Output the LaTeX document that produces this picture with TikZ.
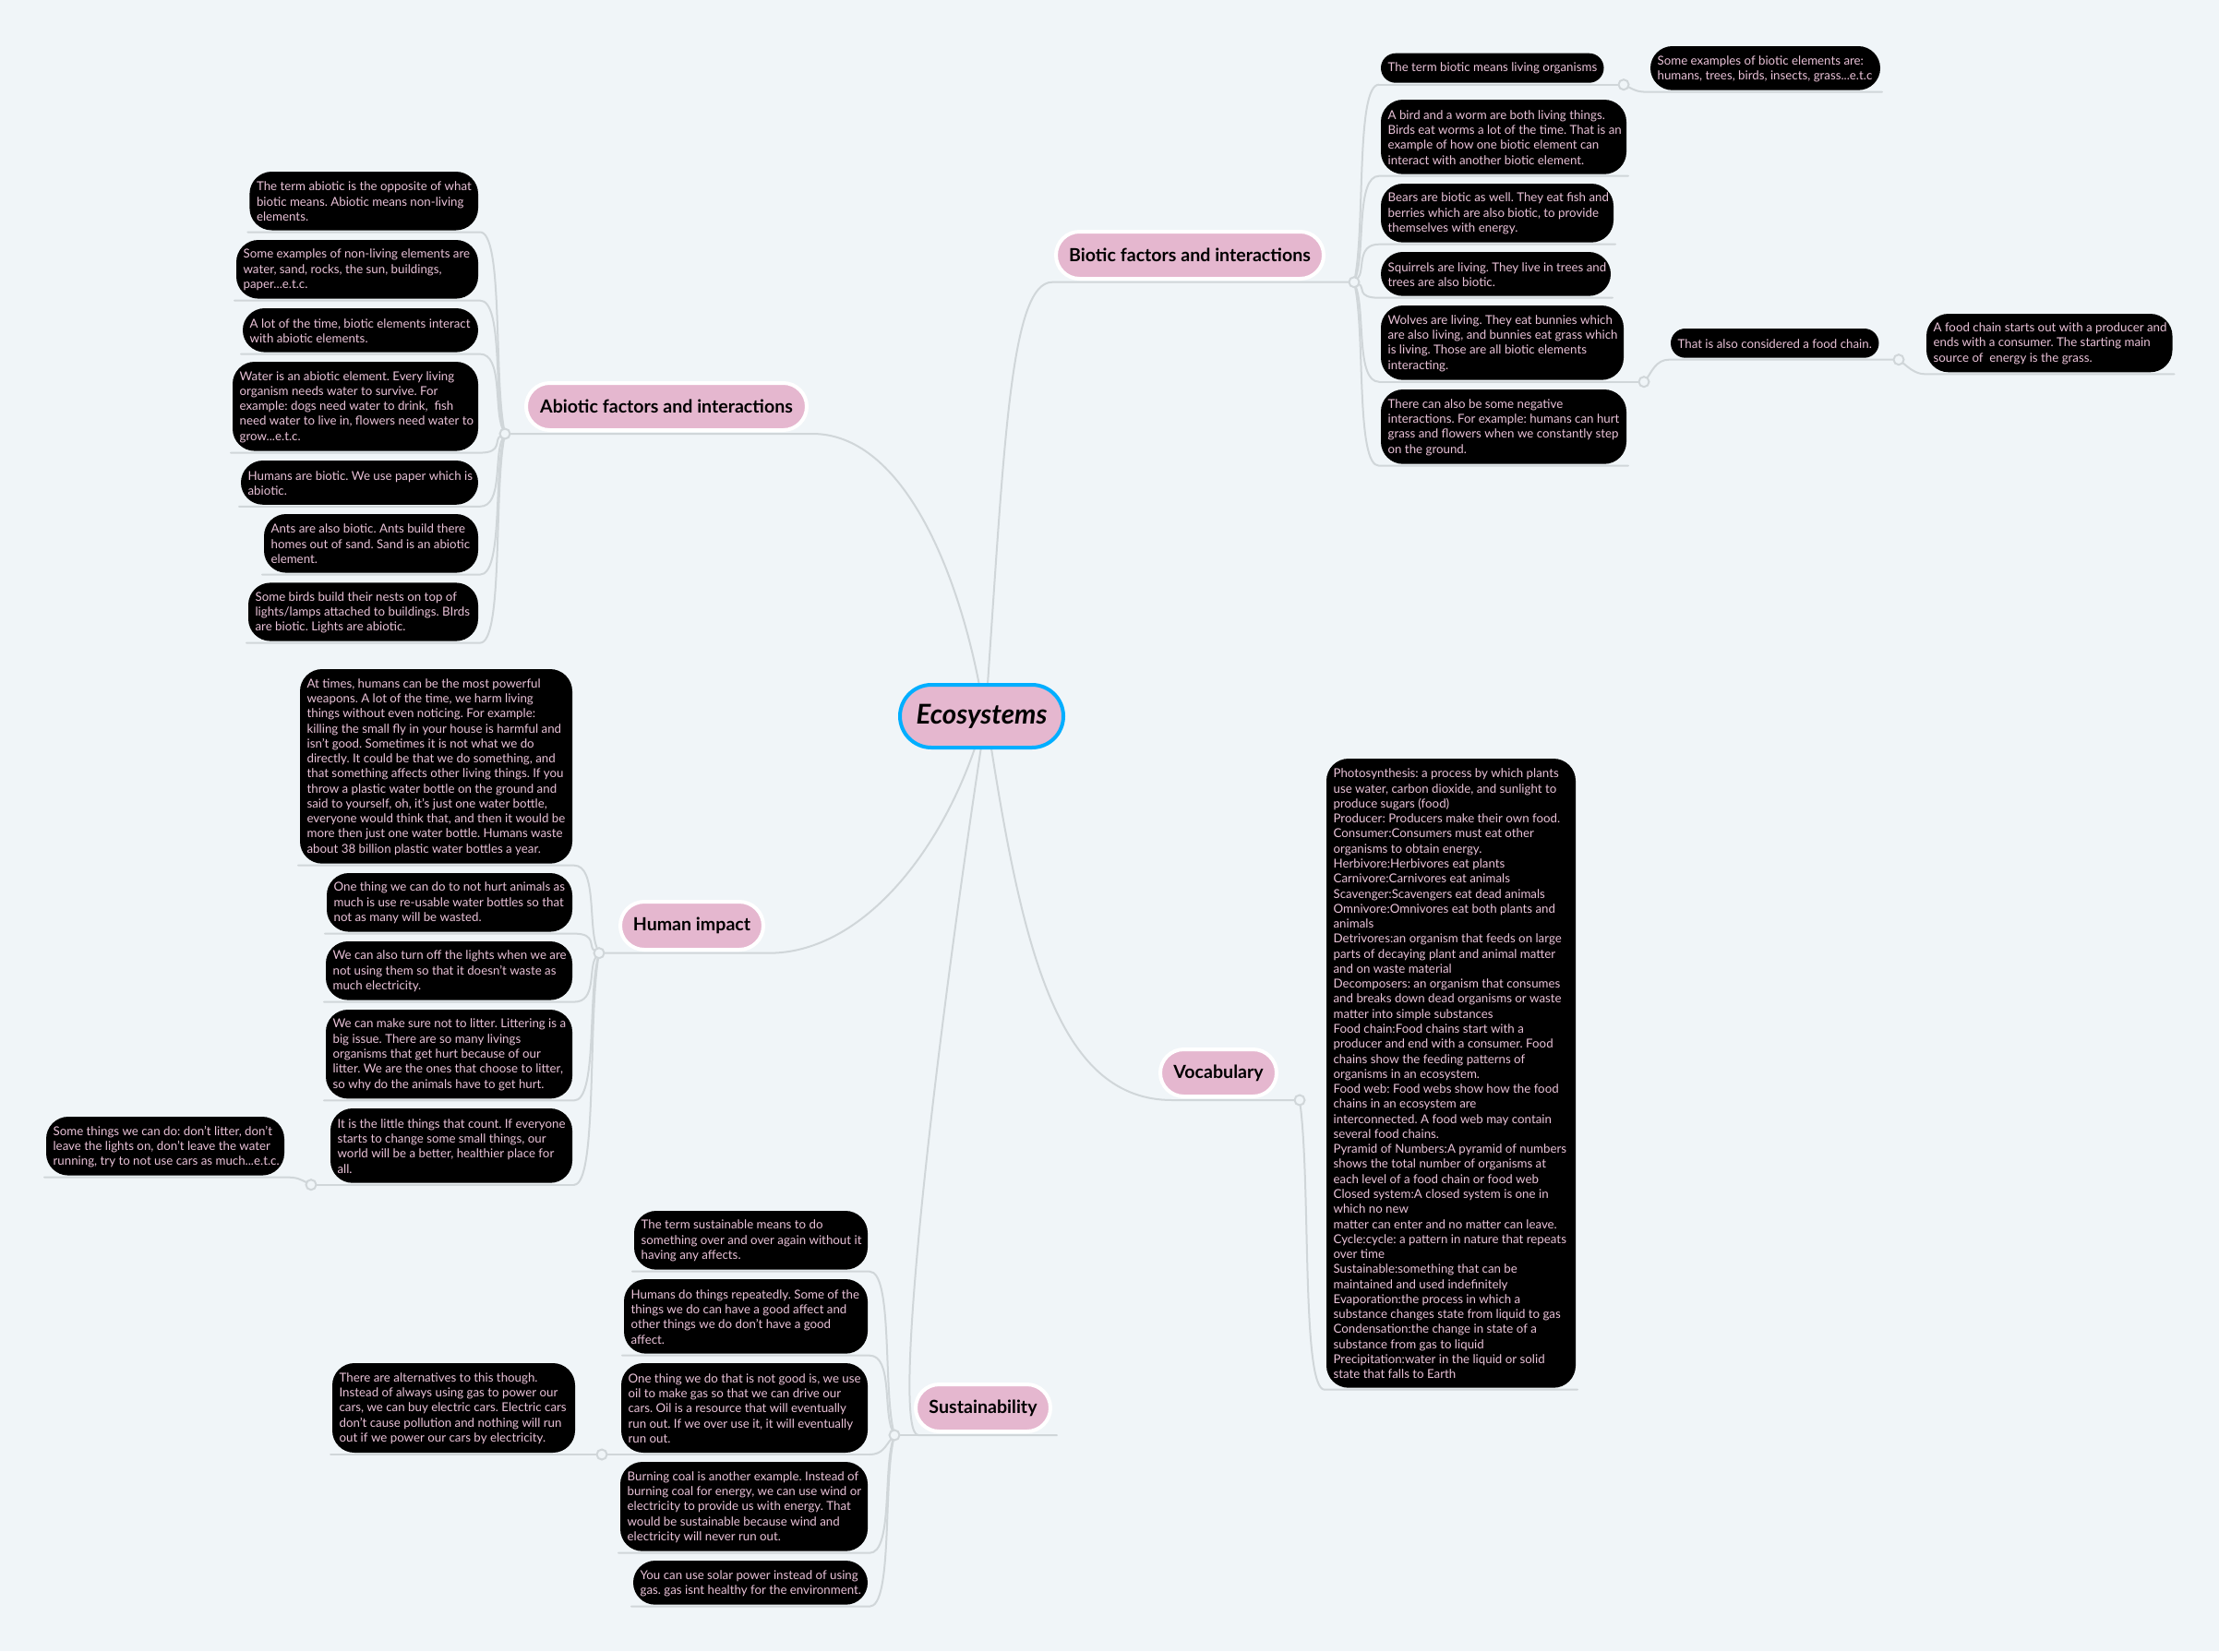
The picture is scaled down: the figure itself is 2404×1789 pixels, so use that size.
\documentclass[tikz,border=0pt]{standalone}
\usepackage{fontspec}
\usetikzlibrary{calc}
\setmainfont{Lato}
\definecolor{paperbg}{HTML}{F0F5F8}
\definecolor{pinkfill}{HTML}{E5B7CF}
\definecolor{pinktext}{HTML}{EAC2D8}
\definecolor{linegray}{HTML}{D0D6D9}
\definecolor{rootblue}{HTML}{00AEFF}
\pgfdeclarelayer{paper}\pgfdeclarelayer{lines}
\pgfsetlayers{paper,lines,main}
\tikzset{
  leafbox/.style={fill=black,draw=none,inner sep=0pt,outer sep=0pt},
  leaftext/.style={text=pinktext,align=left,inner sep=0pt,outer sep=0pt,anchor=west,font=\fontsize{13.3}{16.27}\selectfont\frenchspacing},
  titlebox/.style={fill=pinkfill,draw=white,line width=4pt,inner sep=0pt,outer sep=0pt,text=black,font=\fontsize{19.6}{22}\selectfont\bfseries},
  rootbox/.style={fill=pinkfill,draw=rootblue,line width=4pt,inner sep=0pt,outer sep=0pt,text=black,font=\fontsize{29.5}{32}\selectfont\bfseries\itshape},
  conn/.style={draw=linegray,line width=2pt,line cap=round},
  hubdot/.style={circle,draw=linegray,line width=2pt,fill=paperbg,minimum size=11pt,inner sep=0pt,outer sep=0pt},
}
% name x0 y0 x1 y1 text
\newcommand{\leaf}[6]{%
  \pgfmathsetmacro{\lw}{#4-#2}\pgfmathsetmacro{\lh}{#5-#3}%
  \pgfmathsetmacro{\lr}{min(24,\lh/2)}%
  \pgfmathsetmacro{\lcx}{(#2+#4)/2}\pgfmathsetmacro{\lcy}{(#3+#5)/2}%
  \node[leafbox,rounded corners=\lr pt,minimum width=\lw pt,minimum height=\lh pt] (#1) at (\lcx,\lcy) {};
  \node[leaftext] (#1-t) at ($(#1.west)+(7.6,0.6)$) {#6};
  \coordinate (#1-l) at ($(#2,#5)+(-2,2)$);
  \coordinate (#1-r) at ($(#4,#5)+(2,2)$);
}
\newcommand{\titlenode}[8][titlebox]{%
  \pgfmathsetmacro{\lw}{#5-#3}\pgfmathsetmacro{\lh}{#6-#4}%
  \pgfmathsetmacro{\lr}{\lh/2}%
  \pgfmathsetmacro{\lcx}{(#3+#5)/2}\pgfmathsetmacro{\lcy}{(#4+#6)/2}%
  \node[#1,rounded corners=\lr pt,minimum width=\lw pt,minimum height=\lh pt] (#2) at (\lcx,\lcy) {\raisebox{#7}{#8}};
}
\newcommand{\lbranch}[2]{\draw[conn] (#1-l) -- (#1-r) .. controls ($(#1-r)+(25,0)$) and ($(#2)!0.3!(#2 |- #1-r)+(-12,0)$) .. (#2);}
\newcommand{\rbranch}[2]{\draw[conn] (#1-r) -- (#1-l) .. controls ($(#1-l)+(-25,0)$) and ($(#2)!0.3!(#2 |- #1-l)+(12,0)$) .. (#2);}
\begin{document}
\begin{tikzpicture}[x=1pt,y=-1pt]
\useasboundingbox (0,0) rectangle (2404,1789);
\begin{pgfonlayer}{paper}
\fill[paperbg] (0,0) rectangle (2404,1789);
\end{pgfonlayer}

% root and main topics
\titlenode[rootbox]{root}{975}{742}{1152}{810}{-3.4pt}{Ecosystems}
\titlenode{biotic}{1144}{251}{1434}{302}{-0.8pt}{Biotic factors and interactions}
\titlenode{abiotic}{570}{415}{874}{466}{-0.8pt}{Abiotic factors and interactions}
\titlenode{human}{672}{977}{827}{1029}{-2.2pt}{Human impact}
\titlenode{vocab}{1257}{1137}{1383}{1188}{-2.2pt}{Vocabulary}
\titlenode{sustain}{992}{1500}{1138}{1551}{-2.2pt}{Sustainability}

% hubs
\node[hubdot] (hb) at (1467,305.7) {};
\node[hubdot] (hb1) at (1759,91.7) {};
\node[hubdot] (hb5) at (1781,413.7) {};
\node[hubdot] (hb7) at (2057,389.7) {};
\node[hubdot] (ha) at (547,470) {};
\node[hubdot] (hh) at (649,1032.7) {};
\node[hubdot] (hh5) at (337,1283.7) {};
\node[hubdot] (hv) at (1408,1192) {};
\node[hubdot] (hs) at (969,1555) {};
\node[hubdot] (hs3) at (652,1576) {};

% biotic leaves
\leaf{b1}{1496}{57.7}{1737.5}{89.7}{The term biotic means living organisms}
\leaf{b1a}{1788}{50}{2037}{97.7}{Some examples of biotic elements are:\\humans, trees, birds, insects, grass...e.t.c}
\leaf{b2}{1496}{108}{1762}{188.7}{A bird and a worm are both living things.\\Birds eat worms a lot of the time. That is an\\example of how one biotic element can\\interact with another biotic element.}
\leaf{b3}{1496}{199}{1748}{262.7}{Bears are biotic as well. They eat fish and\\berries which are also biotic, to provide\\themselves with energy.}
\leaf{b4}{1496}{273}{1745}{320.7}{Squirrels are living. They live in trees and\\trees are also biotic.}
\leaf{b5}{1496}{331}{1759}{411.7}{Wolves are living. They eat bunnies which\\are also living, and bunnies eat grass which\\is living. Those are all biotic elements\\interacting.}
\leaf{b5a}{1810}{356}{2035.5}{387.7}{That is also considered a food chain.}
\leaf{b5b}{2087}{340}{2353.5}{403.3}{A food chain starts out with a producer and\\ends with a consumer. The starting main\\source of\ \ energy is the grass.}
\leaf{b6}{1496}{422}{1762}{502.7}{There can also be some negative\\interactions. For example: humans can hurt\\grass and flowers when we constantly step\\on the ground.}

% abiotic leaves
\leaf{a1}{270.4}{186}{518}{249.5}{The term abiotic is the opposite of what\\biotic means. Abiotic means non-living\\elements.}
\leaf{a2}{256}{260}{518}{323.6}{Some examples of non-living elements are\\water, sand, rocks, the sun, buildings,\\paper...e.t.c.}
\leaf{a3}{263}{334}{518}{381.6}{A lot of the time, biotic elements interact\\with abiotic elements.}
\leaf{a4}{252}{392}{518}{488.6}{Water is an abiotic element. Every living\\organism needs water to survive. For\\example: dogs need water to drink,\ \ fish\\need water to live in, flowers need water to\\grow...e.t.c.}
\leaf{a5}{261}{499}{518}{546.8}{Humans are biotic. We use paper which is\\abiotic.}
\leaf{a6}{286}{557}{518}{620.6}{Ants are also biotic. Ants build there\\homes out of sand. Sand is an abiotic\\element.}
\leaf{a7}{269}{631.4}{518}{694.6}{Some birds build their nests on top of\\lights/lamps attached to buildings. BIrds\\are biotic. Lights are abiotic.}

% human leaves
\leaf{h1}{325}{725}{620}{935.7}{At times, humans can be the most powerful\\weapons. A lot of the time, we harm living\\things without even noticing. For example:\\killing the small fly in your house is harmful and\\isn't good. Sometimes it is not what we do\\directly. It could be that we do something, and\\that something affects other living things. If you\\throw a plastic water bottle on the ground and\\said to yourself, oh, it's just one water bottle,\\everyone would think that, and then it would be\\more then just one water bottle. Humans waste\\about 38 billion plastic water bottles a year.}
\leaf{h2}{354}{946}{620}{1009.6}{One thing we can do to not hurt animals as\\much is use re-usable water bottles so that\\not as many will be wasted.}
\leaf{h3}{353}{1020}{620}{1083.6}{We can also turn off the lights when we are\\not using them so that it doesn't waste as\\much electricity.}
\leaf{h4}{353}{1094}{620}{1190.4}{We can make sure not to litter. Littering is a\\big issue. There are so many livings\\organisms that get hurt because of our\\litter. We are the ones that choose to litter,\\so why do the animals have to get hurt.}
\leaf{h5}{358}{1201}{620}{1281.7}{It is the little things that count. If everyone\\starts to change some small things, our\\world will be a better, healthier place for\\all.}
\leaf{h5a}{50}{1210}{308}{1273.6}{Some things we can do: don't litter, don't\\leave the lights on, don't leave the water\\running, try to not use cars as much...e.t.c.}

% vocabulary
\leaf{v1}{1437}{822}{1707}{1503.7}{Photosynthesis: a process by which plants\\use water, carbon dioxide, and sunlight to\\produce sugars (food)\\Producer: Producers make their own food.\\Consumer:Consumers must eat other\\organisms to obtain energy.\\Herbivore:Herbivores eat plants\\Carnivore:Carnivores eat animals\\Scavenger:Scavengers eat dead animals\\Omnivore:Omnivores eat both plants and\\animals\\Detrivores:an organism that feeds on large\\parts of decaying plant and animal matter\\and on waste material\\Decomposers: an organism that consumes\\and breaks down dead organisms or waste\\matter into simple substances\\Food chain:Food chains start with a\\producer and end with a consumer. Food\\chains show the feeding patterns of\\organisms in an ecosystem.\\Food web: Food webs show how the food\\chains in an ecosystem are\\interconnected. A food web may contain\\several food chains.\\Pyramid of Numbers:A pyramid of numbers\\shows the total number of organisms at\\each level of a food chain or food web\\Closed system:A closed system is one in\\which no new\\matter can enter and no matter can leave.\\Cycle:cycle: a pattern in nature that repeats\\over time\\Sustainable:something that can be\\maintained and used indefinitely\\Evaporation:the process in which a\\substance changes state from liquid to gas\\Condensation:the change in state of a\\substance from gas to liquid\\Precipitation:water in the liquid or solid\\state that falls to Earth}

% sustainability leaves
\leaf{s1}{687}{1312}{940}{1375.7}{The term sustainable means to do\\something over and over again without it\\having any affects.}
\leaf{s2}{676}{1386}{940}{1466.7}{Humans do things repeatedly. Some of the\\things we do can have a good affect and\\other things we do don't have a good\\affect.}
\leaf{s3}{673}{1477}{940}{1574}{One thing we do that is not good is, we use\\oil to make gas so that we can drive our\\cars. Oil is a resource that will eventually\\run out. If we over use it, it will eventually\\run out.}
\leaf{s3a}{360}{1477}{623}{1574}{There are alternatives to this though.\\Instead of always using gas to power our\\cars, we can buy electric cars. Electric cars\\don't cause pollution and nothing will run\\out if we power our cars by electricity.}
\leaf{s4}{672}{1584}{940}{1680.7}{Burning coal is another example. Instead of\\burning coal for energy, we can use wind or\\electricity to provide us with energy. That\\would be sustainable because wind and\\electricity will never run out.}
\leaf{s5}{686}{1691}{940}{1738.7}{You can use solar power instead of using\\gas. gas isnt healthy for the environment.}

% connector ends
\coordinate (rb) at (1070,741);
\coordinate (ra) at (1060.7,741);
\coordinate (rh) at (1056,811);
\coordinate (rs) at (1062.7,811);
\coordinate (rv) at (1074,811);
\coordinate (tb) at (1140,305.7);
\coordinate (ta) at (880,470);
\coordinate (th) at (833,1032.7);
\coordinate (tv) at (1270,1192);
\coordinate (ts) at (995,1555);
\coordinate (tsr) at (1145,1555);

\begin{pgfonlayer}{lines}
% main branches
\draw[conn] (rb) .. controls (1088,480) and (1095,305.7) .. (tb) -- (hb);
\draw[conn] (ra) .. controls (1035,610) and (975,470) .. (ta) -- (ha);
\draw[conn] (rh) .. controls (1015,930) and (930,1032.7) .. (th) -- (hh);
\draw[conn] (rv) .. controls (1110,1040) and (1150,1192) .. (tv) -- (hv);
\draw[conn] (rs) .. controls (1010,1160) and (965,1555) .. (ts) -- (tsr);
\draw[conn] (ts) -- (hs);
% biotic
\draw[conn] (b1-l) .. controls ($(b1-l)+(-25,0)$) and ($(hb)!0.3!(hb |- b1-l)+(12,0)$) .. (hb);
\draw[conn] (b1-l) -- (hb1);
\draw[conn] (hb1) .. controls +(12,6) and ($(b1a-l)+(-12,0)$) .. (b1a-l) -- (b1a-r);
\rbranch{b2}{hb}\rbranch{b3}{hb}\rbranch{b4}{hb}\rbranch{b6}{hb}
\draw[conn] (b5-l) .. controls ($(b5-l)+(-25,0)$) and ($(hb)!0.3!(hb |- b5-l)+(12,0)$) .. (hb);
\draw[conn] (b5-l) -- (hb5);
\draw[conn] (hb5) .. controls +(8,-10) and ($(b5a-l)+(-14,0)$) .. (b5a-l) -- (hb7);
\draw[conn] (hb7) .. controls +(10,8) and ($(b5b-l)+(-10,0)$) .. (b5b-l) -- (b5b-r);
% abiotic
\lbranch{a1}{ha}\lbranch{a2}{ha}\lbranch{a3}{ha}\lbranch{a4}{ha}\lbranch{a5}{ha}\lbranch{a6}{ha}\lbranch{a7}{ha}
% human
\lbranch{h1}{hh}\lbranch{h2}{hh}\lbranch{h3}{hh}\lbranch{h4}{hh}
\draw[conn] (h5-r) .. controls ($(h5-r)+(25,0)$) and ($(hh)!0.3!(hh |- h5-r)+(-12,0)$) .. (hh);
\draw[conn] (hh5) -- (h5-r);
\draw[conn] (h5a-l) -- (h5a-r) .. controls +(12,0) and +(-12,-6) .. (hh5);
% vocabulary
\rbranch{v1}{hv}
% sustainability
\lbranch{s1}{hs}\lbranch{s2}{hs}\lbranch{s4}{hs}\lbranch{s5}{hs}
\draw[conn] (s3-r) .. controls ($(s3-r)+(14,0)$) and ($(hs)+(-10,12)$) .. (hs);
\draw[conn] (s3-r) -- (hs3);
\draw[conn] (s3a-l) -- (hs3);
\end{pgfonlayer}
\end{tikzpicture}
\end{document}
